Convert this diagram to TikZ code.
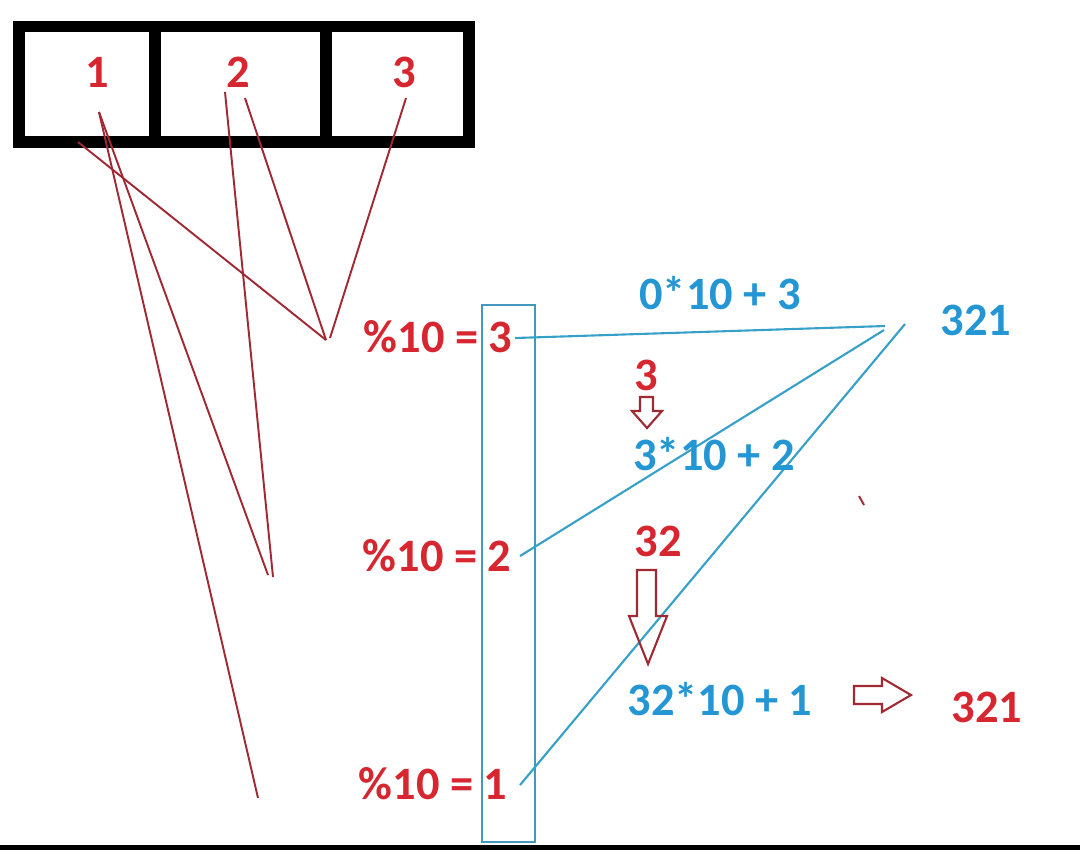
\documentclass[tikz,border=0pt]{standalone}
\usepackage{fontspec}
\setmainfont{Carlito}
\usepackage{xcolor}
\usepackage{tikz}

\definecolor{digitred}{RGB}{214,38,48}
\definecolor{linered}{RGB}{160,42,52}
\definecolor{calcblue}{RGB}{36,150,212}
\definecolor{lineblue}{RGB}{55,160,200}
\definecolor{boxblue}{RGB}{70,150,190}

\tikzset{
  redtext/.style={text=digitred, font=\fontsize{13.2}{15}\selectfont\bfseries, inner sep=0pt},
  bluetext/.style={text=calcblue, font=\fontsize{13.2}{15}\selectfont\bfseries, inner sep=0pt},
  redline/.style={draw=linered, line width=0.55pt},
  blueline/.style={draw=lineblue, line width=0.6pt},
  openarrow/.style={draw=linered, line width=0.6pt, line join=miter}
}

\begin{document}
\begin{tikzpicture}[x=0.01cm,y=-0.01cm]
\useasboundingbox (0,0) rectangle (1080,850);

% Coordinates
\coordinate (a1) at (99,112);   % Start of lines under 1
\coordinate (b1) at (78,142);   % Start of line under the first cell
\coordinate (a2) at (225,92);   % Left line under 2
\coordinate (b2) at (245,98);   % Right line under 2
\coordinate (a3) at (406,98);   % Line under 3
\coordinate (p3) at (326,340);  % Meeting point next to %10 = 3
\coordinate (q3) at (330,338);
\coordinate (p2) at (273,577);  % Meeting point next to %10 = 2
\coordinate (q2) at (268,575);
\coordinate (p1) at (258,798);  % End of the long line
\coordinate (hubA) at (885,326); % Blue lines meet here
\coordinate (hubC) at (884,330);
\coordinate (hubB) at (905,324); % Second blue meeting point

% Array of three cells
\draw[line width=3.4pt] (19,26.5) rectangle (469,142);
\draw[line width=3.4pt] (155,26.5) -- (155,142); % First divider
\draw[line width=3.4pt] (326,26.5) -- (326,142); % Second divider

% Digits in the cells
\node[redtext] (n1) at (97,72) {1};
\node[redtext] (n2) at (238,72) {2};
\node[redtext] (n3) at (404,72) {3};

% Red lines from the cells
\draw[redline] (b1) -- (p3);
\draw[redline] (b2) -- (p3);
\draw[redline] (a3) -- (q3);
\draw[redline] (a1) -- (q2);
\draw[redline] (a2) -- (p2);
\draw[redline] (a1) -- (p1);

% Remainders
\node[redtext] (m3) at (438,337) {\%10 = 3};
\node[redtext] (m2) at (437,556) {\%10 = 2};
\node[redtext] (m1) at (433,784) {\%10 = 1};

% Blue box round the remainders
\draw[boxblue, line width=0.75pt] (482,305) rectangle (535,842);

% Blue lines to the result
\coordinate (s3) at (515,338);
\coordinate (s2) at (520,556);
\coordinate (s1) at (520,785);
\draw[blueline] (s3) -- (hubA);
\draw[blueline] (s2) -- (hubC);
\draw[blueline] (s1) -- (hubB);

% Calculation steps
\node[bluetext] (c1) at (720,293) {0*10 + 3};
\node[redtext] (r1) at (646,375) {3};
\draw[openarrow] (640,397) -- (653,397) -- (653,411) -- (662,411) -- (647,428) -- (632,411) -- (640,411) -- cycle;
\node[bluetext] (c2) at (714,454) {3*10 + 2};
\node[redtext] (r2) at (658,541) {32};
\draw[openarrow] (637,570) -- (656,570) -- (656,616) -- (667,616) -- (648,664) -- (629,616) -- (637,616) -- cycle;
\node[bluetext] (c3) at (720,699) {32*10 + 1};
\draw[openarrow] (854,686) -- (882,686) -- (882,678) -- (911,695) -- (882,712) -- (882,704) -- (854,704) -- cycle;

% Results
\node[bluetext] (res) at (976,320) {321};
\node[redtext] (out) at (987,707) {321};

% Small stray mark
\draw[redline] (859,496) -- (864,505);

% Bottom edge
\draw[line width=1.5pt] (0,847.5) -- (1080,847.5);

\end{tikzpicture}
\end{document}
